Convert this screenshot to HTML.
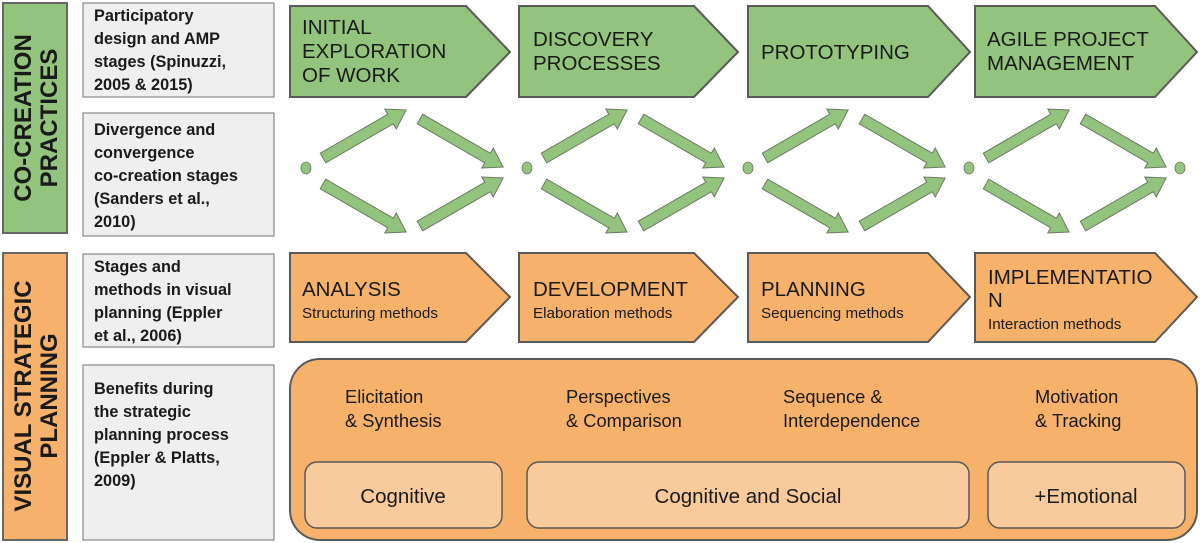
<!DOCTYPE html>
<html><head><meta charset="utf-8"><style>
html,body{margin:0;padding:0;background:#fff;}
svg{display:block;}
text{font-family:"Liberation Sans","DejaVu Sans",sans-serif;fill:#1a1a1a;}
.b{font-weight:bold;font-size:16.3px;}
.t{font-size:20.5px;}
.s{font-size:15.2px;}
.m{font-size:18.3px;}
.i{font-size:20.5px;}
</style></head><body>
<svg width="1200" height="543" viewBox="0 0 1200 543" xmlns="http://www.w3.org/2000/svg">
<defs>
<polygon id="ar" points="0,-5.5 78,-5.5 78,-11.5 96,0 78,11.5 78,5.5 0,5.5" fill="#93c47d" stroke="#6b7a63" stroke-width="1"/>
<g id="grp">
<ellipse cx="0" cy="0" rx="5" ry="6" fill="#93c47d" stroke="#6b7a63" stroke-width="0.8"/>
<use href="#ar" transform="translate(17,-10) rotate(-30)"/>
<use href="#ar" transform="translate(114,-49) rotate(30)"/>
<use href="#ar" transform="translate(17,16) rotate(30)"/>
<use href="#ar" transform="translate(114,58) rotate(-30)"/>
</g>
</defs>
<rect x="3" y="3" width="64" height="230" fill="#93c47d" stroke="#666" stroke-width="2"/>
<rect x="3" y="253" width="64" height="287" fill="#f6b26b" stroke="#666" stroke-width="2"/>
<text transform="translate(31,118) rotate(-90)" text-anchor="middle" style="font-weight:bold;font-size:24px">CO-CREATION</text>
<text transform="translate(57,118) rotate(-90)" text-anchor="middle" style="font-weight:bold;font-size:24px">PRACTICES</text>
<text transform="translate(31,396) rotate(-90)" text-anchor="middle" style="font-weight:bold;font-size:24px">VISUAL STRATEGIC</text>
<text transform="translate(57,396) rotate(-90)" text-anchor="middle" style="font-weight:bold;font-size:24px">PLANNING</text>
<g fill="#efefef" stroke="#888" stroke-width="1.2">
<rect x="83" y="3" width="191" height="94"/>
<rect x="83" y="113" width="191" height="123"/>
<rect x="83" y="254" width="191" height="93"/>
<rect x="83" y="365" width="191" height="175"/>
</g>
<text class="b" x="94" y="21">Participatory</text>
<text class="b" x="94" y="44">design and AMP</text>
<text class="b" x="94" y="67">stages (Spinuzzi,</text>
<text class="b" x="94" y="90">2005 &amp; 2015)</text>
<text class="b" x="94" y="135">Divergence and</text>
<text class="b" x="94" y="158">convergence</text>
<text class="b" x="94" y="181">co-creation stages</text>
<text class="b" x="94" y="204">(Sanders et al.,</text>
<text class="b" x="94" y="227">2010)</text>
<text class="b" x="94" y="272">Stages and</text>
<text class="b" x="94" y="295">methods in visual</text>
<text class="b" x="94" y="318">planning (Eppler</text>
<text class="b" x="94" y="341">et al., 2006)</text>
<text class="b" x="94" y="394">Benefits during</text>
<text class="b" x="94" y="417">the strategic</text>
<text class="b" x="94" y="440">planning process</text>
<text class="b" x="94" y="463">(Eppler &amp; Platts,</text>
<text class="b" x="94" y="486">2009)</text>
<g fill="#93c47d" stroke="#595959" stroke-width="2">
<polygon points="290,6 466,6 510,52 466,97 290,97"/>
<polygon points="519,6 694,6 738,52 694,97 519,97"/>
<polygon points="748,6 928,6 970,52 928,97 748,97"/>
<polygon points="975,6 1155,6 1197,52 1155,97 975,97"/>
</g>
<text class="t" x="302" y="34">INITIAL</text>
<text class="t" x="302" y="58">EXPLORATION</text>
<text class="t" x="302" y="82">OF WORK</text>
<text class="t" x="533" y="46">DISCOVERY</text>
<text class="t" x="533" y="70">PROCESSES</text>
<text class="t" x="761" y="59">PROTOTYPING</text>
<text class="t" x="987" y="46">AGILE PROJECT</text>
<text class="t" x="987" y="70">MANAGEMENT</text>
<use href="#grp" transform="translate(306,168)"/>
<use href="#grp" transform="translate(527,168)"/>
<use href="#grp" transform="translate(748,168)"/>
<use href="#grp" transform="translate(969,168)"/>
<ellipse cx="1180" cy="168" rx="5" ry="6" fill="#93c47d" stroke="#6b7a63" stroke-width="0.8"/>
<g fill="#f6b26b" stroke="#595959" stroke-width="2">
<polygon points="290,253 466,253 510,297 466,342 290,342"/>
<polygon points="519,253 694,253 738,297 694,342 519,342"/>
<polygon points="748,253 928,253 970,297 928,342 748,342"/>
<polygon points="975,253 1155,253 1197,297 1155,342 975,342"/>
</g>
<text class="t" x="302" y="296">ANALYSIS</text>
<text class="s" x="302" y="318">Structuring methods</text>
<text class="t" x="533" y="296">DEVELOPMENT</text>
<text class="s" x="533" y="318">Elaboration methods</text>
<text class="t" x="761" y="296">PLANNING</text>
<text class="s" x="761" y="318">Sequencing methods</text>
<text class="t" x="988" y="284">IMPLEMENTATIO</text>
<text class="t" x="988" y="307">N</text>
<text class="s" x="988" y="329">Interaction methods</text>
<rect x="290" y="359" width="907" height="181" rx="30" fill="#f6b26b" stroke="#595959" stroke-width="2"/>
<text class="m" x="345" y="403">Elicitation</text>
<text class="m" x="345" y="427">&amp; Synthesis</text>
<text class="m" x="566" y="403">Perspectives</text>
<text class="m" x="566" y="427">&amp; Comparison</text>
<text class="m" x="783" y="403">Sequence &amp;</text>
<text class="m" x="783" y="427">Interdependence</text>
<text class="m" x="1035" y="403">Motivation</text>
<text class="m" x="1035" y="427">&amp; Tracking</text>
<g fill="#f9cb9c" stroke="#595959" stroke-width="1.5">
<rect x="305" y="462" width="197" height="66" rx="12"/>
<rect x="527" y="462" width="442" height="66" rx="12"/>
<rect x="988" y="462" width="197" height="66" rx="12"/>
</g>
<text class="i" x="403" y="503" text-anchor="middle">Cognitive</text>
<text class="i" x="748" y="503" text-anchor="middle">Cognitive and Social</text>
<text class="i" x="1086" y="503" text-anchor="middle">+Emotional</text>
</svg>
</body></html>
